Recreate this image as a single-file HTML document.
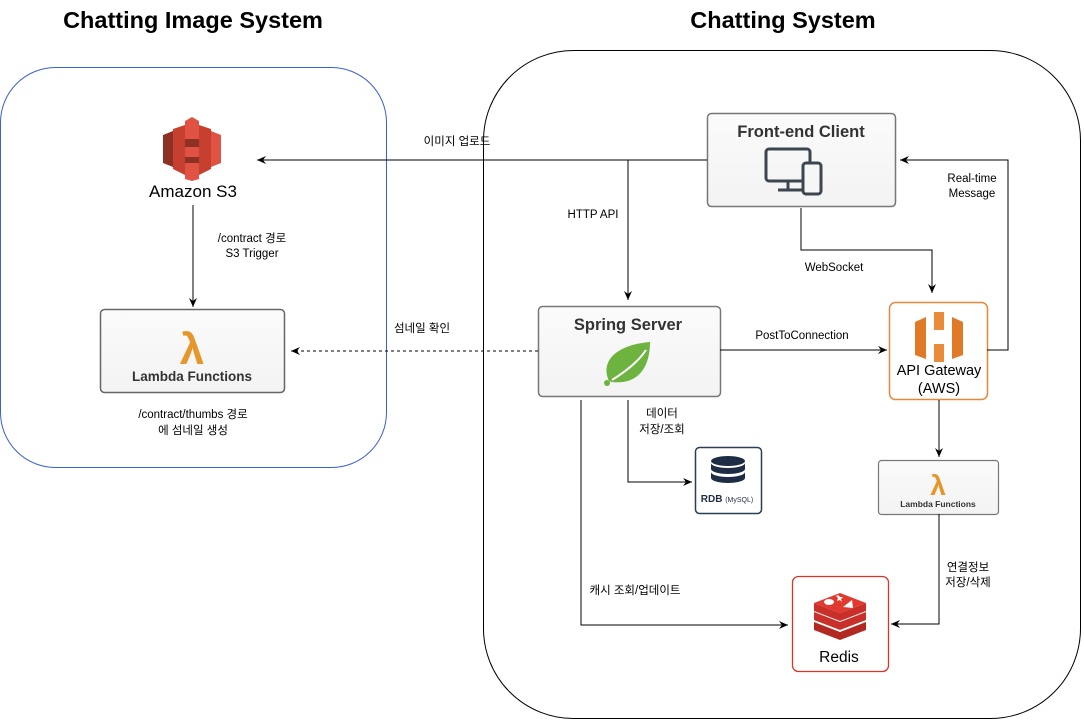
<!DOCTYPE html>
<html><head><meta charset="utf-8"><style>
html,body{margin:0;padding:0;background:#fff;width:1084px;height:721px;overflow:hidden}
text{font-family:"Liberation Sans","Noto Sans CJK KR",sans-serif}
</style></head><body>
<svg width="1084" height="721" viewBox="0 0 1084 721" xmlns="http://www.w3.org/2000/svg">
<defs>
<marker id="a" markerWidth="10" markerHeight="10" refX="9" refY="5" orient="auto" markerUnits="userSpaceOnUse"><path d="M0,1 L9,5 L0,9 L3,5 Z" fill="#000"/></marker>
<linearGradient id="g" x1="0" y1="0" x2="0" y2="1"><stop offset="0" stop-color="#fbfbfb"/><stop offset="1" stop-color="#f3f3f3"/></linearGradient>
</defs>
<text x="193" y="28" font-size="23.5" font-weight="bold" text-anchor="middle">Chatting Image System</text>
<text x="783" y="28" font-size="23.5" font-weight="bold" text-anchor="middle">Chatting System</text>
<rect x="0.5" y="67.5" width="386" height="400" rx="55" fill="none" stroke="#3a5fd0" stroke-width="1"/>
<rect x="483.5" y="50.5" width="597" height="668" rx="90" fill="none" stroke="#000" stroke-width="1"/>

<!-- S3 -->
<g transform="translate(163,117)">
<path d="M10,12 L22,8 L22,58 L10,52 Z" fill="#c7402f"/>
<path d="M48,12 L36,8 L36,58 L48,52 Z" fill="#c7402f"/>
<path d="M22,4 L29,0 L36,4 L36,62 L29,64 L22,62 Z" fill="#e05243"/>
<path d="M0,18 L10,14 L10,50 L0,46 Z" fill="#8c3123"/>
<path d="M58,18 L48,14 L48,50 L58,46 Z" fill="#e05243"/>
<path d="M22,22 L36,22 L36,30 L22,30 Z M22,40 L36,40 L36,46 L22,46 Z" fill="#8c3123"/>
</g>
<text x="193" y="197" font-size="17" text-anchor="middle">Amazon S3</text>
<line x1="193" y1="205" x2="193" y2="307" stroke="#000" marker-end="url(#a)"/>
<text x="252" y="242" font-size="11.5" text-anchor="middle">/contract 경로</text>
<text x="252" y="257" font-size="11.5" text-anchor="middle">S3 Trigger</text>
<rect x="100.5" y="309.5" width="184" height="83" rx="4" fill="url(#g)" stroke="#666" stroke-width="1.5"/>
<text x="192" y="364" font-size="44" font-weight="bold" fill="#e7962a" text-anchor="middle" font-family="DejaVu Sans">λ</text>
<text x="192" y="381" font-size="13.5" font-weight="bold" fill="#333" text-anchor="middle">Lambda Functions</text>
<text x="193" y="418" font-size="11.5" text-anchor="middle">/contract/thumbs 경로</text>
<text x="193" y="434" font-size="11.5" text-anchor="middle">에 섬네일 생성</text>

<!-- Front-end -->
<rect x="707.5" y="113.5" width="188" height="93" rx="4" fill="url(#g)" stroke="#777" stroke-width="1.5"/>
<text x="801" y="137" font-size="16.5" font-weight="bold" fill="#333" text-anchor="middle">Front-end Client</text>
<g fill="none" stroke="#3d4650" stroke-width="3">
<rect x="766" y="149" width="44" height="32" rx="3"/>
<line x1="788" y1="182" x2="788" y2="189"/><line x1="778" y1="190" x2="802" y2="190"/>
</g>
<rect x="803" y="163" width="18" height="31" rx="3" fill="#f6f6f6" stroke="#3d4650" stroke-width="3"/>

<path d="M707,160 L257,160" fill="none" stroke="#000" marker-end="url(#a)"/>
<text x="457" y="145" font-size="11.5" text-anchor="middle">이미지 업로드</text>
<path d="M628,160 L628,300" fill="none" stroke="#000" marker-end="url(#a)"/>
<text x="593" y="218" font-size="11.5" text-anchor="middle">HTTP API</text>

<!-- Spring -->
<rect x="538.5" y="306.5" width="182" height="90" rx="4" fill="url(#g)" stroke="#777" stroke-width="1.5"/>
<text x="628" y="330" font-size="16.5" font-weight="bold" fill="#333" text-anchor="middle">Spring Server</text>
<path d="M609,381 C600,362 615,345 650,342 C650,365 640,385 612,382 Z" fill="#6cb33f"/>
<path d="M612,380 C625,372 638,362 646,350" stroke="#fff" stroke-width="2" fill="none"/>
<circle cx="607" cy="383" r="3" fill="#6cb33f"/>

<line x1="538" y1="351" x2="291" y2="351" stroke="#000" stroke-dasharray="3,3" marker-end="url(#a)"/>
<text x="422" y="332" font-size="11.5" text-anchor="middle">섬네일 확인</text>
<line x1="720" y1="350" x2="887" y2="350" stroke="#000" marker-end="url(#a)"/>
<text x="802" y="339" font-size="11.5" text-anchor="middle">PostToConnection</text>

<!-- API Gateway -->
<rect x="889.5" y="302.5" width="98" height="97" rx="6" fill="#fff" stroke="#e8873a" stroke-width="1.5"/>
<g fill="#e07a27">
<path d="M915,322 L926,317 L926,359 L915,355 Z"/>
<path d="M963,322 L952,317 L952,359 L963,355 Z"/>
<rect x="934" y="312" width="10" height="50" fill="#e98c3a"/>
<rect x="929" y="330" width="20" height="14" fill="#fff"/>
</g>
<text x="939" y="375" font-size="14.5" text-anchor="middle">API Gateway</text>
<text x="939" y="393" font-size="14.5" text-anchor="middle">(AWS)</text>

<path d="M801,208 L801,250 L932,250 L932,293" fill="none" stroke="#000" marker-end="url(#a)"/>
<text x="834" y="271" font-size="11.5" text-anchor="middle">WebSocket</text>
<path d="M987,350 L1008,350 L1008,160 L900,160" fill="none" stroke="#000" marker-end="url(#a)"/>
<text x="972" y="182" font-size="11.5" text-anchor="middle">Real-time</text>
<text x="972" y="197" font-size="11.5" text-anchor="middle">Message</text>

<line x1="939" y1="400" x2="939" y2="457" stroke="#000" marker-end="url(#a)"/>
<rect x="878.5" y="460.5" width="120" height="54" rx="3" fill="url(#g)" stroke="#777" stroke-width="1.2"/>
<text x="938" y="495" font-size="28" font-weight="bold" fill="#e7962a" text-anchor="middle" font-family="DejaVu Sans">λ</text>
<text x="938" y="507" font-size="8.5" font-weight="bold" fill="#333" text-anchor="middle">Lambda Functions</text>

<path d="M939,514 L939,624 L891,624" fill="none" stroke="#000" marker-end="url(#a)"/>
<text x="968" y="571" font-size="11.5" text-anchor="middle">연결정보</text>
<text x="968" y="586" font-size="11.5" text-anchor="middle">저장/삭제</text>

<path d="M628,400 L628,482 L692,482" fill="none" stroke="#000" marker-end="url(#a)"/>
<text x="662" y="417" font-size="11.5" text-anchor="middle">데이터</text>
<text x="662" y="433" font-size="11.5" text-anchor="middle">저장/조회</text>

<rect x="695.5" y="447.5" width="66" height="66" rx="4" fill="#fff" stroke="#2c3e55" stroke-width="1.5"/>
<g fill="#1f2d44">
<ellipse cx="728" cy="461" rx="17" ry="5"/>
<path d="M711,463 L711,469 A17,5 0 0 0 745,469 L745,463 A17,5 0 0 1 711,463 Z"/>
<path d="M711,472 L711,478 A17,5 0 0 0 745,478 L745,472 A17,5 0 0 1 711,472 Z"/>
</g>
<text x="727" y="502" font-size="10" font-weight="bold" fill="#1f2d44" text-anchor="middle">RDB <tspan font-size="7" font-weight="normal">(MySQL)</tspan></text>

<path d="M581,400 L581,625 L788,625" fill="none" stroke="#000" marker-end="url(#a)"/>
<text x="635" y="594" font-size="11.5" text-anchor="middle">캐시 조회/업데이트</text>

<rect x="792.5" y="576.5" width="96" height="95" rx="6" fill="#fff" stroke="#d9342b" stroke-width="1.3"/>
<g>
<path d="M814,622 L840,632 L866,622 L866,630 L840,640 L814,630 Z" fill="#b32820"/>
<path d="M814,612 L840,622 L866,612 L866,620 L840,630 L814,620 Z" fill="#c9302a"/>
<path d="M814,603 L840,613 L866,603 L866,611 L840,621 L814,611 Z" fill="#c9302a"/>
<path d="M814,603 L840,593 L866,603 L840,613 Z" fill="#e03a2f"/>
<ellipse cx="829" cy="602" rx="5" ry="3" fill="#fff"/>
<path d="M843,607 L852,600 L853,608 Z" fill="#fff"/>
<path d="M838,595 l2,2 l3,0 l-2,2 l1,3 l-2,-2 l-3,1 l1,-3 l-2,-2 z" fill="#fff"/>
</g>
<text x="839" y="662" font-size="15.5" text-anchor="middle">Redis</text>
</svg>
</body></html>
